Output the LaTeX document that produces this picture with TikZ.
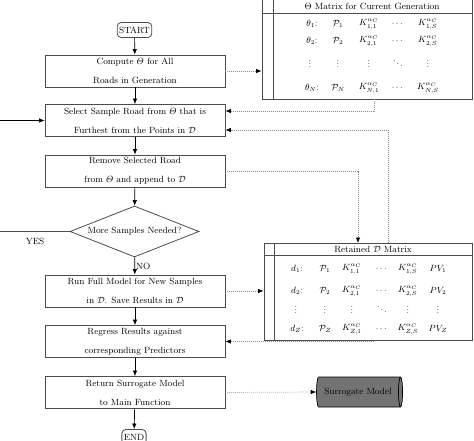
\documentclass[tikz,border=0pt]{standalone}
\usepackage{amsmath,amssymb}
\usetikzlibrary{arrows.meta,shapes.geometric}
\definecolor{boxc}{gray}{0.3}
\definecolor{dotc}{gray}{0.55}
\definecolor{cylc}{gray}{0.45}
\newcommand\myvdots{\vbox{\baselineskip3.2pt\lineskiplimit0pt\hbox{.}\hbox{.}\hbox{.}}}
\newcommand\myddots{\mathinner{\mkern1mu\raise5pt\hbox{.}\mkern2mu\raise2.5pt\hbox{.}\mkern2mu\hbox{.}\mkern1mu}}
\begin{document}
\begin{tikzpicture}[x=1pt,y=-1pt,
  font=\fontsize{9}{11}\selectfont,
  procbox/.style={draw=boxc, line width=0.8pt, minimum width=180pt, minimum height=32pt, inner sep=0pt, align=center},
  termbox/.style={draw=boxc, line width=0.8pt, rounded corners=4pt, minimum height=15pt, inner xsep=2pt, inner ysep=0pt},
  decbox/.style={draw=boxc, line width=0.8pt, diamond, aspect=2.53, minimum width=129pt, minimum height=51pt, inner sep=0pt},
  frame/.style={draw=boxc, line width=0.8pt, inner sep=0pt},
  flow/.style={draw=black, line width=0.7pt, -{Latex[length=5.5pt,width=4.5pt]}},
  flowline/.style={draw=boxc, line width=0.7pt},
  dotarrow/.style={draw=dotc, line width=0.7pt, dash pattern=on 0.7pt off 1.3pt, -{Latex[length=5.5pt,width=4.5pt,black]}},
  ent/.style={inner sep=0pt},
  lbl/.style={inner sep=1pt}]
\useasboundingbox (0,0) rectangle (474,441);

% ---------------- flow chart ----------------
\node[termbox] (start) at (134.5,30) {START};
\node[procbox] (compute) at (135,71) {Compute $\varTheta$ for All\\[8pt]Roads in Generation};
\node[procbox] (select) at (135,120.5) {Select Sample Road from $\varTheta$ that is\\[8pt]Furthest from the Points in $\mathcal{D}$};
\node[procbox] (remove) at (135,171) {Remove Selected Road\\[8pt]from $\varTheta$ and append to $\mathcal{D}$};
\node[decbox] (more) at (134.5,231.5) {More Samples Needed?};
\node[procbox] (run) at (135,291) {Run Full Model for New Samples\\[8pt]in $\mathcal{D}$. Save Results in $\mathcal{D}$};
\node[procbox] (regress) at (135,341.5) {Regress Results against\\[8pt]corresponding Predictors};
\node[procbox] (return) at (135,392.5) {Return Surrogate Model\\[8pt]to Main Function};
\node[termbox] (end) at (134,437) {END};

\draw[flow] (start) -- (compute);
\draw[flow] (compute) -- (select);
\draw[flow] (select) -- (remove);
\draw[flow] (remove) -- (more);
\draw[flow] (more) -- node[lbl, right] (no) {NO} (run);
\draw[flow] (run) -- (regress);
\draw[flow] (regress) -- (return);
\draw[flow] (return) -- (end);
\draw[flowline] (more.west) -- ++(-90,0) coordinate (loopc);
\draw[flow] (loopc) |- (select.west);
\node[lbl] (yes) at (35,241) {YES};

% ---------------- Theta matrix ----------------
\node[frame, minimum width=210pt, minimum height=106pt] (thmat) at (367,46) {};
\coordinate (thsplit) at (273,-7);
\draw[frame] (thsplit) -- (thsplit |- thmat.south);
\draw[frame] (thmat.west |- 0,13) -- (thmat.east |- 0,13);
\node[ent] (thtitle) at (372,6) {$\Theta$ Matrix for Current Generation};

\node[ent] (t11) at (312,24) {$\theta_1$:};
\node[ent] (t12) at (338,24) {$\mathcal{P}_1$};
\node[ent] (t13) at (369,24) {$K_{1,1}^{\alpha_C}$};
\node[ent] (t14) at (398,24) {$\dots$};
\node[ent] (t15) at (428,24) {$K_{1,S}^{\alpha_C}$};
\node[ent] (t21) at (312,41) {$\theta_2$:};
\node[ent] (t22) at (338,41) {$\mathcal{P}_2$};
\node[ent] (t23) at (369,41) {$K_{2,1}^{\alpha_C}$};
\node[ent] (t24) at (398,41) {$\dots$};
\node[ent] (t25) at (428,41) {$K_{2,S}^{\alpha_C}$};
\node[ent] (t31) at (310,64) {\myvdots};
\node[ent] (t32) at (338,64) {\myvdots};
\node[ent] (t33) at (369,64) {\myvdots};
\node[ent] (t34) at (398,64) {$\myddots$};
\node[ent] (t35) at (428,64) {\myvdots};
\node[ent] (t41) at (312,88) {$\theta_N$:};
\node[ent] (t42) at (338,88) {$\mathcal{P}_N$};
\node[ent] (t43) at (369,88) {$K_{N,1}^{\alpha_C}$};
\node[ent] (t44) at (398,88) {$\dots$};
\node[ent] (t45) at (428,88) {$K_{N,S}^{\alpha_C}$};

% ---------------- D matrix ----------------
\node[frame, minimum width=208pt, minimum height=97pt] (dmat) at (368,291.5) {};
\coordinate (dsplit) at (274,243);
\draw[frame] (dsplit) -- (dsplit |- dmat.south);
\draw[frame] (dmat.west |- 0,255) -- (dmat.east |- 0,255);
\node[ent] (dtitle) at (373,249) {Retained $\mathcal{D}$ Matrix};

\node[ent] (d11) at (297,269) {$d_1$:};
\node[ent] (d12) at (325,269) {$\mathcal{P}_1$};
\node[ent] (d13) at (352,269) {$K_{1,1}^{\alpha_C}$};
\node[ent] (d14) at (382,269) {$\dots$};
\node[ent] (d15) at (408,269) {$K_{1,S}^{\alpha_C}$};
\node[ent] (d16) at (438,269) {$PV_1$};
\node[ent] (d21) at (297,291) {$d_2$:};
\node[ent] (d22) at (325,291) {$\mathcal{P}_2$};
\node[ent] (d23) at (352,291) {$K_{2,1}^{\alpha_C}$};
\node[ent] (d24) at (382,291) {$\dots$};
\node[ent] (d25) at (408,291) {$K_{2,S}^{\alpha_C}$};
\node[ent] (d26) at (438,291) {$PV_2$};
\node[ent] (d31) at (296,310) {\myvdots};
\node[ent] (d32) at (325,310) {\myvdots};
\node[ent] (d33) at (352,310) {\myvdots};
\node[ent] (d34) at (382,310) {$\myddots$};
\node[ent] (d35) at (408,310) {\myvdots};
\node[ent] (d36) at (438,310) {\myvdots};
\node[ent] (d41) at (297,329) {$d_Z$:};
\node[ent] (d42) at (325,329) {$\mathcal{P}_Z$};
\node[ent] (d43) at (352,329) {$K_{Z,1}^{\alpha_C}$};
\node[ent] (d44) at (382,329) {$\dots$};
\node[ent] (d45) at (408,329) {$K_{Z,S}^{\alpha_C}$};
\node[ent] (d46) at (438,329) {$PV_Z$};

% ---------------- surrogate model ----------------
\node[cylinder, draw=black, line width=0.7pt, fill=cylc, shape border rotate=0, aspect=0.4,
      minimum width=30pt, minimum height=86pt, inner sep=1pt] (surr) at (358,392) {Surrogate Model};

% ---------------- dotted connectors ----------------
\coordinate (thout) at (374,99);
\coordinate (dtopa) at (358,243);
\coordinate (dtopb) at (388,243);
\coordinate (dout) at (374,340);
\draw[dotarrow] (compute.east) -- (compute.east -| thmat.west);
\draw[dotarrow] (thout) |- ([yshift=9.5pt]select.east);
\draw[dotarrow] (dtopb) |- ([yshift=-9.5pt]select.east);
\draw[dotarrow] (remove.east) -| (dtopa);
\draw[dotarrow] (run.east) -- (run.east -| dmat.west);
\draw[dotarrow] (regress.east -| dout) -- (regress.east);
\draw[dotarrow] (return.east) -- (surr.west);
\end{tikzpicture}
\end{document}
